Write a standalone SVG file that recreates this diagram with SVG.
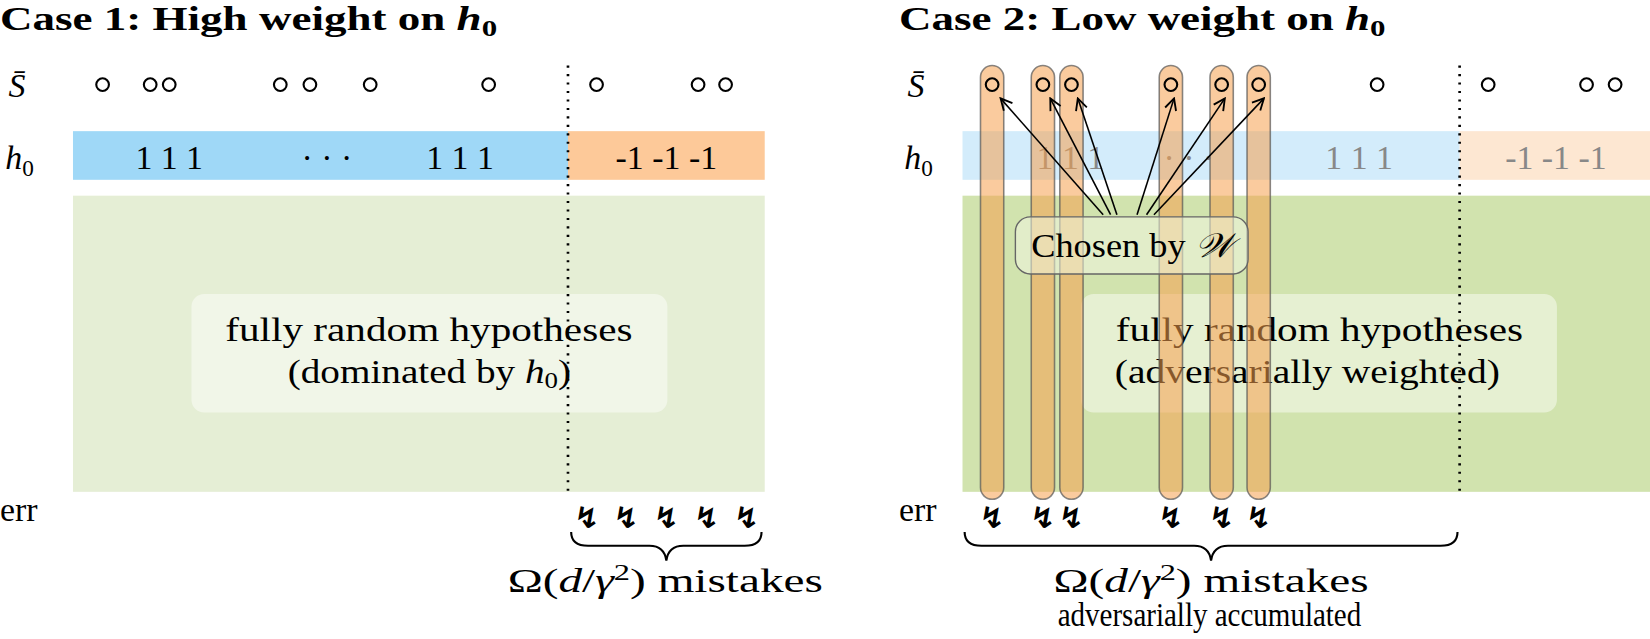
<svg xmlns="http://www.w3.org/2000/svg" width="1650" height="639" viewBox="0 0 1650 639">
<style>
text{font-family:"Liberation Serif","DejaVu Serif",serif;fill:#000}
.t{font-size:32px}
.h{font-size:32px;font-weight:bold}
.c{fill:none;stroke:#000;stroke-width:2}
.z{font-family:"DejaVu Sans",sans-serif;font-size:28px;font-weight:bold}
.pill{fill:#f5a04f;fill-opacity:0.55;stroke:#555;stroke-opacity:0.7;stroke-width:1.5}
.dot{stroke:#000;stroke-width:2.5;stroke-dasharray:2 6}
.a{stroke:#000;stroke-width:1.5;fill:none;marker-end:url(#ar)}
.g{fill:#888}
</style>
<defs><marker id="ar" viewBox="0 0 10 10" refX="9" refY="5" markerWidth="9" markerHeight="9" orient="auto"><path d="M1 1L9 5L1 9" fill="none" stroke="#000" stroke-width="1.3"/></marker></defs>
<g transform="scale(1.0577)">
<g id="left">
<text class="h" x="0" y="28" textLength="470" lengthAdjust="spacingAndGlyphs">Case 1:  High weight on <tspan font-style="italic">h</tspan><tspan font-size="22" dy="6">0</tspan></text>
<text class="t" x="8" y="92" font-style="italic">S̄</text>
<text class="t" x="5" y="160" font-style="italic">h<tspan font-size="22" font-style="normal" dy="6">0</tspan></text>
<text class="t" x="0" y="493">err</text>
<rect x="69" y="124" width="468" height="46" fill="#9fd8f7"/>
<rect x="537" y="124" width="186" height="46" fill="#fdc999"/>
<text class="t" x="128" y="160">1 1 1</text><text class="t" x="285" y="160">· · ·</text><text class="t" x="403" y="160">1 1 1</text>
<text class="t" x="630" y="160" text-anchor="middle">-1 -1 -1</text>
<rect x="69" y="185" width="654" height="280" fill="#e5eed5"/>
<rect x="181" y="278" width="450" height="112" rx="12" fill="#fff" fill-opacity="0.45"/>
<text class="t" x="213" y="322" textLength="385" lengthAdjust="spacingAndGlyphs">fully random hypotheses</text>
<text class="t" x="272" y="362" textLength="268" lengthAdjust="spacingAndGlyphs">(dominated by <tspan font-style="italic">h</tspan><tspan font-size="22" dy="5">0</tspan><tspan dy="-5">)</tspan></text>
<line class="dot" x1="537" y1="62" x2="537" y2="465"/>
<g class="c"><circle cx="97" cy="80" r="6"/><circle cx="142" cy="80" r="6"/><circle cx="160" cy="80" r="6"/><circle cx="265" cy="80" r="6"/><circle cx="293" cy="80" r="6"/><circle cx="350" cy="80" r="6"/><circle cx="462" cy="80" r="6"/><circle cx="564" cy="80" r="6"/><circle cx="660" cy="80" r="6"/><circle cx="686" cy="80" r="6"/></g>
<g text-anchor="middle"><text x="555" y="499" class="z">↯</text><text x="592" y="499" class="z">↯</text><text x="630" y="499" class="z">↯</text><text x="668" y="499" class="z">↯</text><text x="706" y="499" class="z">↯</text></g>
<path class="c" d="M540 503 Q540 516 556 516 L614 516 Q628 516 630 530 Q632 516 646 516 L704 516 Q720 516 720 503"/>
<text class="t" x="480" y="560" textLength="298" lengthAdjust="spacingAndGlyphs">Ω(<tspan font-style="italic">d</tspan>/<tspan font-style="italic">γ</tspan><tspan font-size="22" dy="-12">2</tspan><tspan dy="12">) mistakes</tspan></text>
</g>
<g id="right">
<text class="h" x="850" y="28" textLength="460" lengthAdjust="spacingAndGlyphs">Case 2:  Low weight on <tspan font-style="italic">h</tspan><tspan font-size="22" dy="6">0</tspan></text>
<text class="t" x="858" y="92" font-style="italic">S̄</text>
<text class="t" x="855" y="160" font-style="italic">h<tspan font-size="22" font-style="normal" dy="6">0</tspan></text>
<text class="t" x="850" y="493">err</text>
<rect x="910" y="124" width="470" height="46" fill="#d3ecfb"/>
<rect x="1380" y="124" width="185" height="46" fill="#fde7d2"/>
<text class="t g" x="980" y="160">1 1 1</text><text class="t g" x="1100" y="160">· · ·</text><text class="t g" x="1253" y="160">1 1 1</text><text class="t g" x="1471" y="160" text-anchor="middle">-1 -1 -1</text>
<rect x="910" y="185" width="655" height="280" fill="#d1e3ae"/>
<rect x="1022" y="278" width="450" height="112" rx="12" fill="#fff" fill-opacity="0.45"/>
<text class="t" x="1055" y="322" textLength="385" lengthAdjust="spacingAndGlyphs">fully random hypotheses</text>
<text class="t" x="1054" y="362" textLength="364" lengthAdjust="spacingAndGlyphs">(adversarially weighted)</text>
<line class="dot" x1="1380" y1="62" x2="1380" y2="465"/>
<g id="pills"><rect class="pill" x="927" y="62" width="22" height="410" rx="11"/><rect class="pill" x="975" y="62" width="22" height="410" rx="11"/><rect class="pill" x="1002" y="62" width="22" height="410" rx="11"/><rect class="pill" x="1096" y="62" width="22" height="410" rx="11"/><rect class="pill" x="1144" y="62" width="22" height="410" rx="11"/><rect class="pill" x="1179" y="62" width="22" height="410" rx="11"/></g>
<g class="c"><circle cx="938" cy="80" r="6"/><circle cx="986" cy="80" r="6"/><circle cx="1013" cy="80" r="6"/><circle cx="1107" cy="80" r="6"/><circle cx="1155" cy="80" r="6"/><circle cx="1190" cy="80" r="6"/><circle cx="1302" cy="80" r="6"/><circle cx="1407" cy="80" r="6"/><circle cx="1500" cy="80" r="6"/><circle cx="1527" cy="80" r="6"/></g>
<rect x="960" y="205" width="220" height="54" rx="14" fill="#f0f5e0" fill-opacity="0.55" stroke="#666" stroke-width="1.3"/>
<text class="t" x="975" y="243" textLength="190" lengthAdjust="spacingAndGlyphs">Chosen by <tspan font-family="DejaVu Serif" font-style="italic">𝒲</tspan></text>
<g text-anchor="middle"><text x="938" y="499" class="z">↯</text><text x="986" y="499" class="z">↯</text><text x="1013" y="499" class="z">↯</text><text x="1107" y="499" class="z">↯</text><text x="1155" y="499" class="z">↯</text><text x="1190" y="499" class="z">↯</text></g>
<path class="c" d="M912 503 Q912 516 928 516 L1129 516 Q1143 516 1145 530 Q1147 516 1161 516 L1362 516 Q1378 516 1378 503"/>
<text class="t" x="996" y="560" textLength="298" lengthAdjust="spacingAndGlyphs">Ω(<tspan font-style="italic">d</tspan>/<tspan font-style="italic">γ</tspan><tspan font-size="22" dy="-12">2</tspan><tspan dy="12">) mistakes</tspan></text>
<text class="t" x="1000" y="592" textLength="287" lengthAdjust="spacingAndGlyphs">adversarially accumulated</text>
</g>
<g id="connectors">
<path class="a" d="M1043 203L946 93"/>
<path class="a" d="M1050 203L993 93"/>
<path class="a" d="M1056 203L1019 93"/>
<path class="a" d="M1075 203L1110 93"/>
<path class="a" d="M1084 203L1158 93"/>
<path class="a" d="M1091 203L1195 93"/>
</g>
</g>
</svg>
